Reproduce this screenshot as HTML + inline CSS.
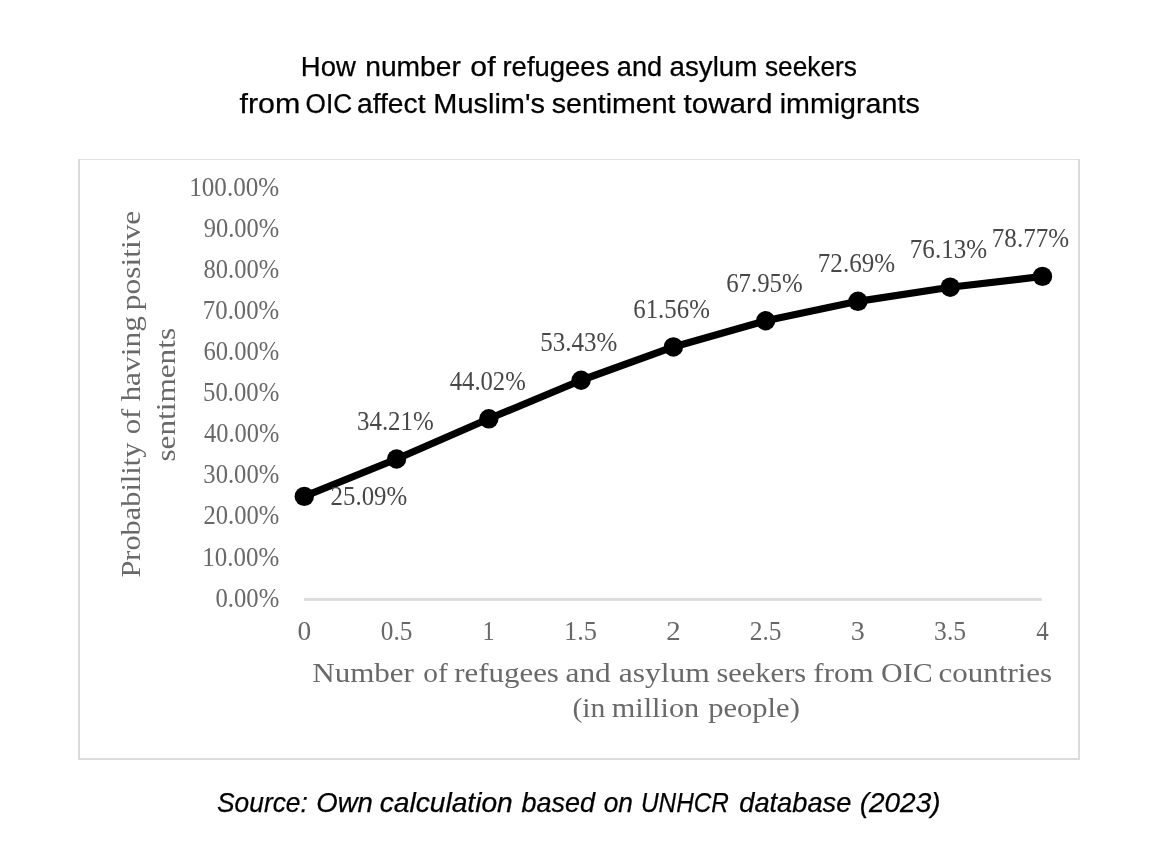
<!DOCTYPE html>
<html lang="en"><head><meta charset="utf-8"><title>How number of refugees and asylum seekers from OIC affect Muslim's sentiment toward immigrants</title>
<style>html,body{margin:0;padding:0;background:#fff}body{width:1153px;height:851px;overflow:hidden}svg{display:block}</style>
</head><body>
<svg width="1153" height="851" viewBox="0 0 1153 851">
<rect x="0" y="0" width="1153" height="851" fill="#ffffff"/>
<rect x="78" y="159" width="1002" height="1" fill="#e1e1e1"/>
<rect x="78" y="159" width="2" height="601" fill="#dbdbdb"/>
<rect x="1078" y="159" width="2" height="601" fill="#dbdbdb"/>
<rect x="78" y="758" width="1002" height="2" fill="#dbdbdb"/>
<text y="75.70" font-size="27" fill="#000000" font-family='"Liberation Sans", sans-serif' stroke="#000000" stroke-width="0.25"><tspan x="300.85" textLength="54.99" lengthAdjust="spacingAndGlyphs">How</tspan> <tspan x="365.23" textLength="95.64" lengthAdjust="spacingAndGlyphs">number</tspan> <tspan x="470.33" textLength="25.23" lengthAdjust="spacingAndGlyphs">of</tspan> <tspan x="502.48" textLength="106.92" lengthAdjust="spacingAndGlyphs">refugees</tspan> <tspan x="616.85" textLength="45.30" lengthAdjust="spacingAndGlyphs">and</tspan> <tspan x="669.63" textLength="87.60" lengthAdjust="spacingAndGlyphs">asylum</tspan> <tspan x="764.97" textLength="91.88" lengthAdjust="spacingAndGlyphs">seekers</tspan></text>
<text y="112.60" font-size="27" fill="#000000" font-family='"Liberation Sans", sans-serif' stroke="#000000" stroke-width="0.25"><tspan x="239.47" textLength="60.73" lengthAdjust="spacingAndGlyphs">from</tspan> <tspan x="305.56" textLength="46.54" lengthAdjust="spacingAndGlyphs">OIC</tspan> <tspan x="357.01" textLength="68.49" lengthAdjust="spacingAndGlyphs">affect</tspan> <tspan x="433.33" textLength="111.62" lengthAdjust="spacingAndGlyphs">Muslim's</tspan> <tspan x="551.81" textLength="123.70" lengthAdjust="spacingAndGlyphs">sentiment</tspan> <tspan x="683.45" textLength="88.96" lengthAdjust="spacingAndGlyphs">toward</tspan> <tspan x="779.68" textLength="140.05" lengthAdjust="spacingAndGlyphs">immigrants</tspan></text>
<text x="215.46" y="606.60" font-size="26.5" fill="#686868" font-family='"Liberation Serif", serif' textLength="63.78" lengthAdjust="spacingAndGlyphs">0.00%</text>
<text x="202.31" y="565.52" font-size="26.5" fill="#686868" font-family='"Liberation Serif", serif' textLength="76.95" lengthAdjust="spacingAndGlyphs">10.00%</text>
<text x="203.42" y="524.44" font-size="26.5" fill="#686868" font-family='"Liberation Serif", serif' textLength="75.82" lengthAdjust="spacingAndGlyphs">20.00%</text>
<text x="203.32" y="483.36" font-size="26.5" fill="#686868" font-family='"Liberation Serif", serif' textLength="75.92" lengthAdjust="spacingAndGlyphs">30.00%</text>
<text x="204.02" y="442.28" font-size="26.5" fill="#686868" font-family='"Liberation Serif", serif' textLength="75.21" lengthAdjust="spacingAndGlyphs">40.00%</text>
<text x="203.06" y="401.20" font-size="26.5" fill="#686868" font-family='"Liberation Serif", serif' textLength="76.18" lengthAdjust="spacingAndGlyphs">50.00%</text>
<text x="203.44" y="360.12" font-size="26.5" fill="#686868" font-family='"Liberation Serif", serif' textLength="75.80" lengthAdjust="spacingAndGlyphs">60.00%</text>
<text x="202.87" y="319.04" font-size="26.5" fill="#686868" font-family='"Liberation Serif", serif' textLength="76.38" lengthAdjust="spacingAndGlyphs">70.00%</text>
<text x="203.57" y="277.96" font-size="26.5" fill="#686868" font-family='"Liberation Serif", serif' textLength="75.67" lengthAdjust="spacingAndGlyphs">80.00%</text>
<text x="203.71" y="236.88" font-size="26.5" fill="#686868" font-family='"Liberation Serif", serif' textLength="75.53" lengthAdjust="spacingAndGlyphs">90.00%</text>
<text x="189.19" y="195.80" font-size="26.5" fill="#686868" font-family='"Liberation Serif", serif' textLength="90.07" lengthAdjust="spacingAndGlyphs">100.00%</text>
<rect x="303.9" y="597.9" width="737.8" height="3" fill="#dcdcdc"/>
<text x="297.46" y="640.20" font-size="26.5" fill="#686868" font-family='"Liberation Serif", serif' textLength="13.68" lengthAdjust="spacingAndGlyphs">0</text>
<text x="380.76" y="640.20" font-size="26.5" fill="#686868" font-family='"Liberation Serif", serif' textLength="31.65" lengthAdjust="spacingAndGlyphs">0.5</text>
<text x="482.47" y="640.20" font-size="26.5" fill="#686868" font-family='"Liberation Serif", serif' textLength="12.07" lengthAdjust="spacingAndGlyphs">1</text>
<text x="563.94" y="640.20" font-size="26.5" fill="#686868" font-family='"Liberation Serif", serif' textLength="33.06" lengthAdjust="spacingAndGlyphs">1.5</text>
<text x="666.31" y="640.20" font-size="26.5" fill="#686868" font-family='"Liberation Serif", serif' textLength="14.47" lengthAdjust="spacingAndGlyphs">2</text>
<text x="749.68" y="640.20" font-size="26.5" fill="#686868" font-family='"Liberation Serif", serif' textLength="31.81" lengthAdjust="spacingAndGlyphs">2.5</text>
<text x="850.78" y="640.20" font-size="26.5" fill="#686868" font-family='"Liberation Serif", serif' textLength="14.04" lengthAdjust="spacingAndGlyphs">3</text>
<text x="934.12" y="640.20" font-size="26.5" fill="#686868" font-family='"Liberation Serif", serif' textLength="31.92" lengthAdjust="spacingAndGlyphs">3.5</text>
<text x="1036.17" y="640.20" font-size="26.5" fill="#686868" font-family='"Liberation Serif", serif' textLength="12.48" lengthAdjust="spacingAndGlyphs">4</text>
<text y="681.90" font-size="28" fill="#696969" font-family='"Liberation Serif", serif'><tspan x="312.21" textLength="101.77" lengthAdjust="spacingAndGlyphs">Number</tspan> <tspan x="423.28" textLength="24.52" lengthAdjust="spacingAndGlyphs">of</tspan> <tspan x="454.28" textLength="104.63" lengthAdjust="spacingAndGlyphs">refugees</tspan> <tspan x="565.50" textLength="45.29" lengthAdjust="spacingAndGlyphs">and</tspan> <tspan x="618.69" textLength="91.10" lengthAdjust="spacingAndGlyphs">asylum</tspan> <tspan x="716.45" textLength="89.75" lengthAdjust="spacingAndGlyphs">seekers</tspan> <tspan x="813.35" textLength="60.34" lengthAdjust="spacingAndGlyphs">from</tspan> <tspan x="881.07" textLength="51.58" lengthAdjust="spacingAndGlyphs">OIC</tspan> <tspan x="938.62" textLength="113.50" lengthAdjust="spacingAndGlyphs">countries</tspan></text>
<text y="717.10" font-size="28" fill="#696969" font-family='"Liberation Serif", serif'><tspan x="572.40" textLength="32.95" lengthAdjust="spacingAndGlyphs">(in</tspan> <tspan x="611.76" textLength="87.39" lengthAdjust="spacingAndGlyphs">million</tspan> <tspan x="708.21" textLength="91.64" lengthAdjust="spacingAndGlyphs">people)</tspan></text>
<text transform="translate(140.10,576.70) rotate(-90)" y="0" font-size="28" fill="#696969" font-family='"Liberation Serif", serif'><tspan x="-0.87" textLength="134.89" lengthAdjust="spacingAndGlyphs">Probability</tspan> <tspan x="142.54" textLength="25.46" lengthAdjust="spacingAndGlyphs">of</tspan> <tspan x="175.09" textLength="85.51" lengthAdjust="spacingAndGlyphs">having</tspan> <tspan x="266.49" textLength="99.55" lengthAdjust="spacingAndGlyphs">positive</tspan></text>
<text transform="translate(174.80,460.30) rotate(-90)" y="0" font-size="28" fill="#696969" font-family='"Liberation Serif", serif'><tspan x="-1.28" textLength="133.61" lengthAdjust="spacingAndGlyphs">sentiments</tspan></text>
<path d="M304.30,496.38 L396.57,459.01 L488.84,418.81 L581.11,380.24 L673.38,346.93 L765.65,320.74 L857.92,301.32 L950.19,287.22 L1042.46,276.40" fill="none" stroke="#000" stroke-width="7.2" stroke-linejoin="round" stroke-linecap="round"/>
<circle cx="304.30" cy="496.38" r="9.7" fill="#000"/>
<circle cx="396.57" cy="459.01" r="9.7" fill="#000"/>
<circle cx="488.84" cy="418.81" r="9.7" fill="#000"/>
<circle cx="581.11" cy="380.24" r="9.7" fill="#000"/>
<circle cx="673.38" cy="346.93" r="9.7" fill="#000"/>
<circle cx="765.65" cy="320.74" r="9.7" fill="#000"/>
<circle cx="857.92" cy="301.32" r="9.7" fill="#000"/>
<circle cx="950.19" cy="287.22" r="9.7" fill="#000"/>
<circle cx="1042.46" cy="276.40" r="9.7" fill="#000"/>
<text x="330.61" y="504.90" font-size="26.5" fill="#474747" font-family='"Liberation Serif", serif' textLength="76.64" lengthAdjust="spacingAndGlyphs">25.09%</text>
<text x="357.01" y="429.80" font-size="26.5" fill="#474747" font-family='"Liberation Serif", serif' textLength="76.74" lengthAdjust="spacingAndGlyphs">34.21%</text>
<text x="449.72" y="389.80" font-size="26.5" fill="#474747" font-family='"Liberation Serif", serif' textLength="76.02" lengthAdjust="spacingAndGlyphs">44.02%</text>
<text x="540.25" y="351.10" font-size="26.5" fill="#474747" font-family='"Liberation Serif", serif' textLength="77.01" lengthAdjust="spacingAndGlyphs">53.43%</text>
<text x="633.23" y="317.60" font-size="26.5" fill="#474747" font-family='"Liberation Serif", serif' textLength="76.62" lengthAdjust="spacingAndGlyphs">61.56%</text>
<text x="726.13" y="291.50" font-size="26.5" fill="#474747" font-family='"Liberation Serif", serif' textLength="76.62" lengthAdjust="spacingAndGlyphs">67.95%</text>
<text x="817.85" y="271.70" font-size="26.5" fill="#474747" font-family='"Liberation Serif", serif' textLength="77.21" lengthAdjust="spacingAndGlyphs">72.69%</text>
<text x="909.85" y="257.70" font-size="26.5" fill="#474747" font-family='"Liberation Serif", serif' textLength="77.21" lengthAdjust="spacingAndGlyphs">76.13%</text>
<text x="991.85" y="246.80" font-size="26.5" fill="#474747" font-family='"Liberation Serif", serif' textLength="77.21" lengthAdjust="spacingAndGlyphs">78.77%</text>
<text y="812.40" font-size="27.5" fill="#000000" font-family='"Liberation Sans", sans-serif' font-style="italic" stroke="#000000" stroke-width="0.25"><tspan x="217.05" textLength="90.80" lengthAdjust="spacingAndGlyphs">Source:</tspan> <tspan x="316.21" textLength="56.64" lengthAdjust="spacingAndGlyphs">Own</tspan> <tspan x="379.68" textLength="133.10" lengthAdjust="spacingAndGlyphs">calculation</tspan> <tspan x="521.52" textLength="73.57" lengthAdjust="spacingAndGlyphs">based</tspan> <tspan x="603.64" textLength="29.25" lengthAdjust="spacingAndGlyphs">on</tspan> <tspan x="640.98" textLength="87.97" lengthAdjust="spacingAndGlyphs">UNHCR</tspan> <tspan x="739.28" textLength="112.03" lengthAdjust="spacingAndGlyphs">database</tspan> <tspan x="859.69" textLength="80.88" lengthAdjust="spacingAndGlyphs">(2023)</tspan></text>
</svg>
</body></html>
